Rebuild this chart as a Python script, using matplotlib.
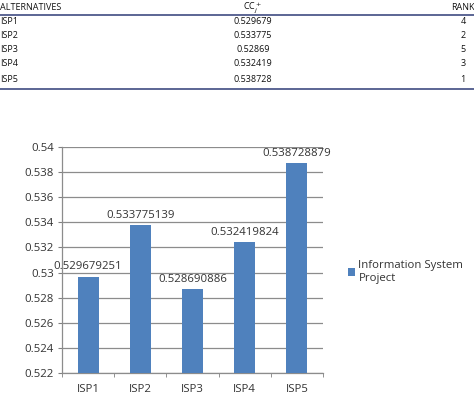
import numpy as np
import matplotlib as mpl
import matplotlib.pyplot as plt
from matplotlib.lines import Line2D

# Table data
alternatives = ["ISP1", "ISP2", "ISP3", "ISP4", "ISP5"]
cc_table = ["0.529679", "0.533775", "0.52869", "0.532419", "0.538728"]
ranks = ["4", "2", "5", "3", "1"]

# Chart data
categories = ["ISP1", "ISP2", "ISP3", "ISP4", "ISP5"]
values = [0.529679251, 0.533775139, 0.528690886, 0.532419824, 0.538728879]
value_labels = ["0.529679251", "0.533775139", "0.528690886",
                "0.532419824", "0.538728879"]
y_ticks = [0.522, 0.524, 0.526, 0.528, 0.53, 0.532, 0.534, 0.536, 0.538, 0.54]
y_ticklabels = ["0.522", "0.524", "0.526", "0.528", "0.53", "0.532",
                "0.534", "0.536", "0.538", "0.54"]

W, H = 474, 397
BAR_COLOR = "#4f81bd"
TEXT_COLOR = "#333333"
RULE_COLOR = "#5b6594"

mpl.rcParams['font.family'] = ['Open Sans', 'DejaVu Sans']

fig = plt.figure(figsize=(W / 100, H / 100), dpi=100)

# --------------------------------------------------------------------------
#   Table
# --------------------------------------------------------------------------
def fy(py):
    return 1 - py / H

fs_tab = 6.5
fig.text(0, fy(8), "ALTERNATIVES", fontsize=fs_tab, va='center',
         ha='left', color='#111111')
fig.text(253 / W, fy(8), r"CC$_j^+$", fontsize=fs_tab, va='center',
         ha='center', color='#111111')
fig.text(451 / W, fy(8), "RANK", fontsize=fs_tab, va='center',
         ha='left', color='#111111')

row_y = [22, 36, 50, 64, 79]
for i in range(len(alternatives)):
    fig.text(0, fy(row_y[i]), alternatives[i], fontsize=fs_tab,
             va='center', ha='left', color='#111111')
    fig.text(253 / W, fy(row_y[i]), cc_table[i], fontsize=fs_tab,
             va='center', ha='center', color='#111111')
    fig.text(463 / W, fy(row_y[i]), ranks[i], fontsize=fs_tab,
             va='center', ha='center', color='#111111')

for py in [15, 89]:
    fig.add_artist(Line2D([0, 1], [fy(py), fy(py)], color=RULE_COLOR,
                          linewidth=1.4, transform=fig.transFigure))

# --------------------------------------------------------------------------
#   Bar chart
# --------------------------------------------------------------------------
ax = fig.add_axes([62 / W, (H - 373) / H, 261 / W, 226 / H])

x = np.arange(len(categories))
ax.bar(x, values, width=0.4, color=BAR_COLOR, zorder=3,
       label="Information System\nProject")

for xi, v, lab in zip(x, values, value_labels):
    ax.text(xi, v + 0.00035, lab, ha='center', va='bottom', fontsize=8.2,
            color=TEXT_COLOR)

ax.set_xlim(-0.5, len(categories) - 0.5)
ax.set_ylim(0.522, 0.54)
ax.set_yticks(y_ticks)
ax.set_yticklabels(y_ticklabels)
ax.set_xticks(x)
ax.set_xticklabels(categories)
ax.set_xticks(np.arange(-0.5, len(categories)), minor=True)
ax.tick_params(axis='x', which='major', length=0, pad=8, labelsize=8.2,
               labelcolor=TEXT_COLOR)
ax.tick_params(axis='x', which='minor', length=3, direction='out',
               color='#808080')
ax.tick_params(axis='y', length=3, direction='out', color='#808080',
               labelsize=8.2, labelcolor=TEXT_COLOR, pad=3)

ax.grid(True, axis='y', color='#8c8c8c', linewidth=0.9, zorder=0)
for side in ['top', 'right']:
    ax.spines[side].set_visible(False)
for side in ['left', 'bottom']:
    ax.spines[side].set_color('#8c8c8c')
    ax.spines[side].set_linewidth(0.9)

ax.legend(loc='upper left', bbox_to_anchor=(338 / W, fy(250)),
          bbox_transform=fig.transFigure, frameon=False, fontsize=8.2,
          handlelength=0.6, handleheight=0.6, handletextpad=0.3,
          labelcolor=TEXT_COLOR)

fig.savefig("out.png", dpi=100)
